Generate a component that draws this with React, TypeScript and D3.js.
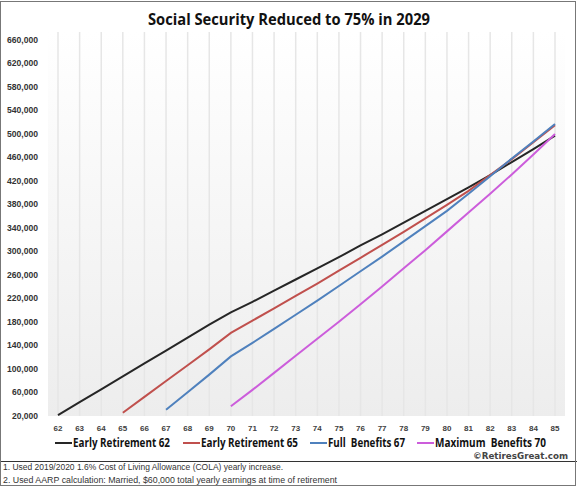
import * as d3 from "d3";

const ages = [62, 63, 64, 65, 66, 67, 68, 69, 70, 71, 72, 73, 74, 75, 76, 77, 78, 79, 80, 81, 82, 83, 84, 85];
const yTicks = [20000, 60000, 100000, 140000, 180000, 220000, 260000, 300000, 340000, 380000, 420000, 460000, 500000, 540000, 580000, 620000, 660000];

// cumulative benefits, each series starts at its claiming age
const early62 = [21000, 43000, 65000, 87000, 109000, 131000, 153000, 175000, 196000, 214000, 233000, 252000, 271000, 290000, 310000, 329000, 349000, 369000, 389000, 409000, 430000, 452000, 474000, 497000];
const early65 = [25000, 52000, 79000, 106000, 133000, 161000, 182000, 203000, 224000, 245000, 267000, 289000, 311000, 333000, 356000, 379000, 403000, 430000, 457000, 486000, 515000];
const full67 = [30000, 60000, 90000, 121000, 144000, 168000, 192000, 216000, 241000, 266000, 291000, 317000, 343000, 369000, 398000, 428000, 458000, 487000, 517000];
const max70 = [36000, 64000, 93000, 122000, 151000, 180000, 210000, 240000, 271000, 302000, 334000, 366000, 398000, 431000, 465000, 500000];

const seriesNames = ["Early Retirement 62", "Early Retirement 65", "Full  Benefits 67", "Maximum  Benefits 70"];
const seriesStart = [62, 65, 67, 70];
const seriesValues = [early62, early65, full67, max70];
const seriesColors = ["#262626", "#c0504d", "#4f81bd", "#cc5ddb"];

const footnotes = [
  "1. Used 2019/2020 1.6% Cost of Living Allowance (COLA) yearly increase.",
  "2. Used AARP calculation: Married, $60,000 total yearly earnings at time of retirement",
];
const footnoteW = [280, 334];

export default function App() {
  const width = 577;
  const height = 487;
  const plotLeft = 48;
  const plotRight = 565;
  const plotTop = 32;
  const plotBottom = 416;

  const x = d3.scalePoint<number>().domain(ages).range([58, 555]);
  const y = d3.scaleLinear().domain([20000, 660000]).range([415.7, 40]);

  const line = d3
    .line<{ age: number; v: number }>()
    .x((d) => x(d.age)!)
    .y((d) => y(d.v));

  // legend layout
  const legendX = [55, 183, 310, 417];
  const legendW = [97, 97, 77, 111];

  return (
    <svg
      width={width}
      height={height}
      style={{ position: "absolute", left: 0, top: 0, display: "block" }}
      fontFamily="'Open Sans', 'Liberation Sans', sans-serif"
    >
      <defs>
        <linearGradient id="bg" x1="0" y1="0" x2="0" y2="1">
          <stop offset="0" stopColor="#ffffff" />
          <stop offset="1" stopColor="#ededed" />
        </linearGradient>
      </defs>
      <rect x={0} y={0} width={width} height={height} fill="#fff" />
      <rect x={plotLeft} y={plotTop} width={plotRight - plotLeft} height={plotBottom - plotTop} fill="url(#bg)" />

      {/* vertical gridlines at each age */}
      {ages.map((a) => (
        <line key={a} x1={x(a)} x2={x(a)} y1={plotTop} y2={plotBottom} stroke="#e6e6e6" strokeWidth={1.5} />
      ))}

      <text x={289} y={25} textAnchor="middle" fontSize={16} fontWeight="bold" fill="#111" textLength={282} lengthAdjust="spacingAndGlyphs">
        Social Security Reduced to 75% in 2029
      </text>

      {yTicks.map((t) => (
        <text key={t} x={38} y={y(t) + 3} textAnchor="end" fontSize={8.5} fontWeight="bold" fill="#333" fontFamily="'Liberation Sans', sans-serif" textLength={t < 100000 ? 26 : 31} lengthAdjust="spacingAndGlyphs">
          {d3.format(",")(t)}
        </text>
      ))}

      {ages.map((a) => (
        <text key={a} x={x(a)} y={430.5} textAnchor="middle" fontSize={8} fontWeight="bold" fill="#404040" fontFamily="'Liberation Sans', sans-serif">
          {a}
        </text>
      ))}

      {seriesValues.map((vals, i) => (
        <path
          key={i}
          d={line(vals.map((v, j) => ({ age: seriesStart[i] + j, v })))!}
          fill="none"
          stroke={seriesColors[i]}
          strokeWidth={2}
        />
      ))}

      {seriesNames.map((n, i) => (
        <g key={n}>
          <line x1={legendX[i]} x2={legendX[i] + 17} y1={443} y2={443} stroke={seriesColors[i]} strokeWidth={2} />
          <text x={legendX[i] + 18} y={447} fontSize={12} fontWeight="bold" fill="#111" textLength={legendW[i]} lengthAdjust="spacingAndGlyphs" style={{ whiteSpace: "pre" }}>
            {n}
          </text>
        </g>
      ))}

      <text x={568} y={459} textAnchor="end" fontSize={8.5} fontWeight="bold" fill="#444" fontFamily="'DejaVu Sans', sans-serif" textLength={95} lengthAdjust="spacingAndGlyphs">
        ©RetiresGreat.com
      </text>

      <line x1={0} x2={width} y1={461.5} y2={461.5} stroke="#333" strokeWidth={1} />
      {footnotes.map((f, i) => (
        <text key={f} x={3} y={470 + i * 12.5} fontSize={8.5} fill="#333" fontFamily="'Liberation Sans', sans-serif" textLength={footnoteW[i]} lengthAdjust="spacingAndGlyphs">
          {f}
        </text>
      ))}

      <rect x={0.5} y={1.5} width={width - 2} height={height - 3} fill="none" stroke="#777" strokeWidth={1} />
    </svg>
  );
}
